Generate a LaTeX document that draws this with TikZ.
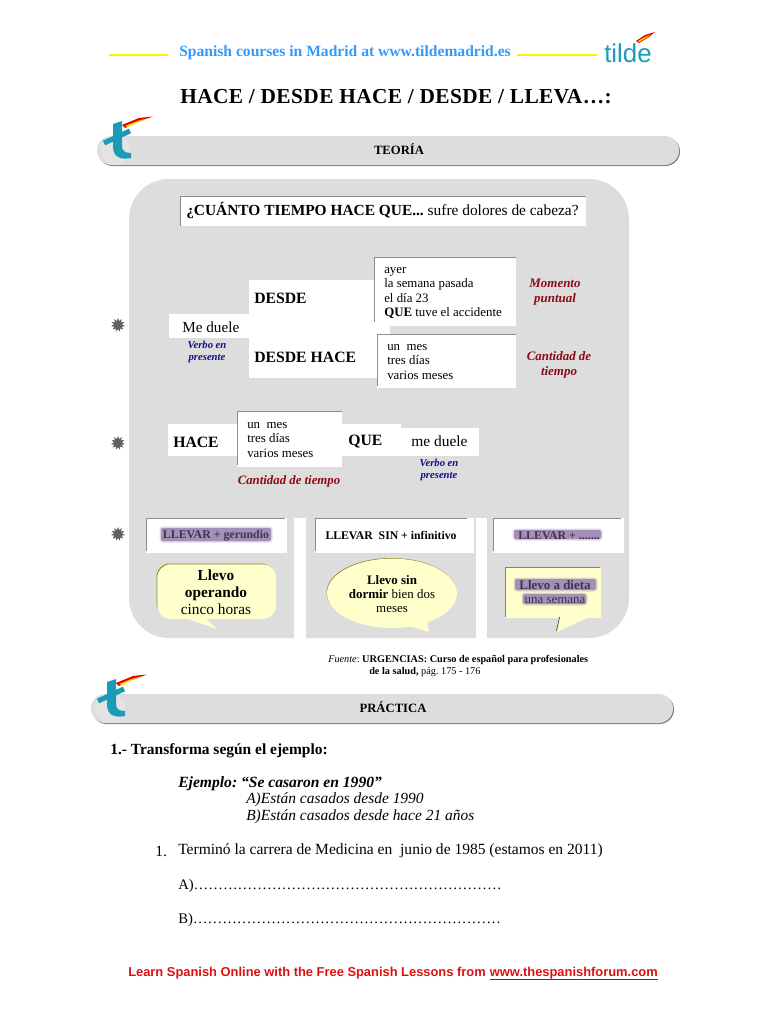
\documentclass[tikz,border=0pt]{standalone}
\usepackage{fontspec}
\setmainfont{Liberation Serif}
\setsansfont{Liberation Sans}
\usetikzlibrary{shapes.geometric}
\definecolor{panel}{HTML}{DDDDDD}
\definecolor{bub}{HTML}{FFFFCC}
\definecolor{teal}{HTML}{1A9BB8}
\definecolor{hl}{HTML}{A48FB8}
\definecolor{wine}{HTML}{8B0A14}
\definecolor{navy}{HTML}{10108C}
\definecolor{hdr}{HTML}{3399FF}
\definecolor{dimtxt}{HTML}{40344C}
\definecolor{footred}{HTML}{DD1111}
\newcommand{\fs}[2]{\fontsize{#1}{#2}\selectfont}
\frenchspacing
\tikzset{
  txt/.style={inner sep=0pt,anchor=west,align=left},
  ctr/.style={inner sep=0pt,anchor=center,align=center},
  whitebox/.style={fill=white,draw=none},
  edge/.style={draw=black!45,line width=0.7pt},
  burst/.style={star,star points=11,star point ratio=1.7,fill=black!62,minimum size=10.5pt,inner sep=0pt},
  bubshade/.style={fill=olive!65!gray},
  list/.style={txt,anchor=north west,font=\fs{9.65}{10.8}},
  wineit/.style={ctr,text=wine,font=\fs{9.7}{11}\bfseries\itshape},
  navyit/.style={ctr,text=navy,font=\fs{8}{8.8}\bfseries\itshape},
  big/.style={txt,font=\fs{11.8}{13}\bfseries},
  body/.style={txt,font=\fs{11.65}{13}}
}
\newcommand{\logot}[2]{%
 \begin{scope}[shift={(#1,#2)}]
  \fill[teal] (9,-18) -- (18,-21) -- (18,4) .. controls (18,9) and (21,11) .. (27,11) -- (27,16) .. controls (16,18) and (9,15) .. (9,4) -- cycle;
  \draw[teal,line width=3.8pt] (0,1) -- (26,-11);
  \fill[red!90!black] (18,-17) -- (35,-24) -- (49,-25.5) -- (34,-20) -- (21,-14) -- cycle;
  \fill[yellow!90!orange] (21,-16) -- (35,-21.5) -- (45,-24) -- (35,-20.5) -- (24,-15) -- cycle;
 \end{scope}}
\newcommand{\hlbox}[4]{%
  \fill[hl,opacity=.35,rounded corners=2.5pt] (#1-1.5,#2-1.5) rectangle (#3+1.5,#4+1.5);
  \fill[hl,rounded corners=1.5pt] (#1,#2) rectangle (#3,#4);}
\begin{document}
\begin{tikzpicture}[x=0.75pt,y=-0.75pt]
\useasboundingbox (0,0) rectangle (768,1024);
\fill[white] (0,0) rectangle (768,1024);
% header
\draw[yellow,line width=0.9pt] (109,55) -- (168,55);
\draw[yellow,line width=0.9pt] (517,55) -- (597,55);
\node[txt,text=hdr,font=\fs{11.7}{13}\bfseries] (head) at (179,53) {Spanish courses in Madrid at www.tildemadrid.es};
\node[txt,text=teal,font=\sffamily\fs{19.4}{21}] (tildew) at (604,53) {tilde};
\fill[red!90!black] (636,41) -- (645,35) -- (655,32) -- (649,37) -- (639,43) -- cycle;
\fill[yellow!90!orange] (638,41) -- (646,36.5) -- (651,34.5) -- (646,38) -- (639,42) -- cycle;
\node[ctr,font=\fs{16}{17}\bfseries] (title) at (396,97) {\addfontfeature{LetterSpace=2}HACE / DESDE HACE / DESDE / LLEVA\ldots:};
% banner 1
\fill[black!50,rounded corners=10.9pt] (98,137) rectangle (680,166);
\fill[panel,rounded corners=10.9pt] (97,136) rectangle (679,165);
\fill[white,opacity=.2] (116,150) circle (15);
\logot{104}{142}
\node[ctr,font=\fs{9.5}{11}\bfseries] (teoria) at (399,149.5) {TEORÍA};
% panel
\fill[panel,rounded corners=30pt] (129,179) rectangle (629,638);
\fill[white] (294,518) rectangle (306,639);
\fill[white] (476,518) rectangle (487,639);
% question
\fill[whitebox] (180,196) rectangle (586,226);
\draw[edge] (180,226) -- (180,196.5) -- (586,196.5);
\node[txt,font=\fs{11.55}{13}] (q) at (186,210) {\textbf{¿CUÁNTO TIEMPO HACE QUE...} sufre dolores de cabeza?};
% desde block
\fill[whitebox] (169,314) rectangle (250,338);
\fill[whitebox] (249,280) rectangle (378,323);
\fill[whitebox] (249,322) rectangle (390,378);
\fill[whitebox] (374,257) rectangle (516,326);
\draw[edge] (374,322) -- (374,257.5) -- (516,257.5);
\fill[whitebox] (377,334) rectangle (516,388);
\draw[edge] (377,386) -- (377,334.5) -- (516,334.5);
\node[txt,font=\fs{11.4}{13}] (med) at (182,327) {Me duele};
\node[big] (desde) at (254,298) {DESDE};
\node[big] (desdeh) at (254,357) {DESDE HACE};
\node[list] (ayer) at (384,267) {ayer\\la semana pasada\\el día 23\\\textbf{QUE} tuve el accidente};
\node[list] (unm) at (387,344) {un\ \ mes\\tres días\\varios meses};
\node[wineit] (mom) at (555,292) {Momento\\puntual};
\node[wineit] (cant) at (559,365) {Cantidad de\\tiempo};
\node[navyit] (vp1) at (207,352) {Verbo en\\presente};
% hace block
\fill[whitebox] (168,424) rectangle (238,456);
\fill[whitebox] (237,411) rectangle (342,467);
\draw[edge] (237,465) -- (237,411.5) -- (342,411.5);
\fill[whitebox] (342,424) rectangle (401,456);
\fill[whitebox] (400,428) rectangle (479,456);
\node[big] (hace) at (173,442) {HACE};
\node[list] (unm2) at (247,422) {un\ \ mes\\tres días\\varios meses};
\node[big] (que) at (348,442) {QUE};
\node[txt,font=\fs{11.6}{13}] (md2) at (411,441) {me duele};
\node[ctr,text=wine,font=\fs{9.6}{11}\bfseries\itshape] (cdt) at (289,481) {Cantidad de tiempo};
\node[navyit] (vp2) at (439,470) {Verbo en\\presente};
% bursts
\node[burst] (b1) at (118,325) {};
\node[burst] (b2) at (118,443) {};
\node[burst] (b3) at (118,534) {};
% llevar boxes
\fill[whitebox] (146,518) rectangle (287,553);
\draw[edge] (146,551) -- (146,518.5) -- (285,518.5);
\fill[whitebox] (315,518) rectangle (474,553);
\draw[edge] (315,551) -- (315,518.5) -- (467,518.5);
\fill[whitebox] (493,518) rectangle (624,553);
\draw[edge] (493,551) -- (493,518.5) -- (621,518.5);
\hlbox{161}{528}{271}{541}
\hlbox{514}{530}{601}{539}
\node[ctr,text=dimtxt,font=\fs{8.9}{10}\bfseries] (l1) at (216,535.5) {LLEVAR + gerundio};
\node[ctr,font=\fs{8.8}{10}\bfseries] (l2) at (391,535.5) {LLEVAR\ \ SIN + infinitivo};
\node[ctr,text=dimtxt,font=\fs{8.9}{10}\bfseries] (l3) at (559,535.5) {LLEVAR + .......};
% bubbles
\fill[bubshade,rounded corners=10pt] (156.5,563.5) rectangle (275,617);
\fill[bub,rounded corners=10pt] (157.3,564.3) rectangle (276,619);
\fill[bub] (185,618) -- (217,629) -- (205,618) -- cycle;
\node[ctr,font=\fs{11.5}{12.7}] (bt1) at (216,592) {\textbf{Llevo}\\\textbf{operando}\\cinco horas};
\fill[bubshade] (391.5,592.5) ellipse (65 and 34.5);
\fill[bub] (392,593.3) ellipse (65 and 34.7);
\fill[bub] (395,622) -- (429,632) -- (425,612) -- cycle;
\node[ctr,font=\fs{9.7}{10.5}] (bt2) at (392,594) {\textbf{Llevo sin}\\\textbf{dormir} bien dos\\meses};
\fill[bubshade] (505,566.5) rectangle (600,617);
\fill[bub] (506,567.5) rectangle (601,618);
\fill[bub] (558,617) -- (557,632) -- (587,618) -- cycle;
\draw[black!70,line width=.6pt] (559.5,617) -- (556.5,631);
\hlbox{515}{579}{596}{590}
\hlbox{523}{594}{586}{604}
\node[ctr,text=dimtxt,font=\fs{9.7}{10.7}] (bt3) at (555,592) {\textbf{Llevo a dieta}\\una semana};
% source
\node[txt,font=\fs{7.7}{9}] (f1) at (328,660) {\textit{Fuente}: \textbf{URGENCIAS: Curso de español para profesionales}};
\node[txt,font=\fs{7.7}{9}] (f2) at (369,672) {\textbf{de la salud,} pág. 175 - 176};
% banner 2
\fill[black!50,rounded corners=10.9pt] (92,695) rectangle (674,724);
\fill[panel,rounded corners=10.9pt] (91,694) rectangle (673,723);
\fill[white,opacity=.2] (110,708) circle (15);
\logot{98}{700}
\node[ctr,font=\fs{9.5}{11}\bfseries] (prac) at (393,707.5) {PRÁCTICA};
% practice
\node[txt,font=\fs{11.6}{13}\bfseries] (p1) at (110,751) {1.- Transforma según el ejemplo:};
\node[txt,font=\fs{11.7}{13}\bfseries\itshape] (p2) at (178,783.5) {Ejemplo: “Se casaron en 1990”};
\node[txt,font=\fs{11.6}{13}\itshape] (p3) at (246,800) {A)Están casados desde 1990};
\node[txt,font=\fs{11.6}{13}\itshape] (p4) at (246,817) {B)Están casados desde hace 21 años};
\node[body] (p5) at (155,851) {1.};
\node[body] (p6) at (178,851) {Terminó la carrera de Medicina en\ \ junio de 1985 (estamos en 2011)};
\node[txt,font=\fs{11}{13}] (p7) at (178,886) {A)………………………………………………………};
\node[txt,font=\fs{11}{13}] (p8) at (178,920) {B)………………………………………………………};
% footer
\node[txt,text=footred,font=\sffamily\fs{9.67}{11}\bfseries] (foot) at (128,973) {Learn Spanish Online with the Free Spanish Lessons from\ };
\node[inner sep=0pt,anchor=base west,text=footred,font=\sffamily\fs{9.67}{11}\bfseries] (url) at (foot.base east) {www.thespanishforum.com};
\draw[footred!80!black,line width=.6pt] (url.south west) -- (url.south east);
\end{tikzpicture}
\end{document}
